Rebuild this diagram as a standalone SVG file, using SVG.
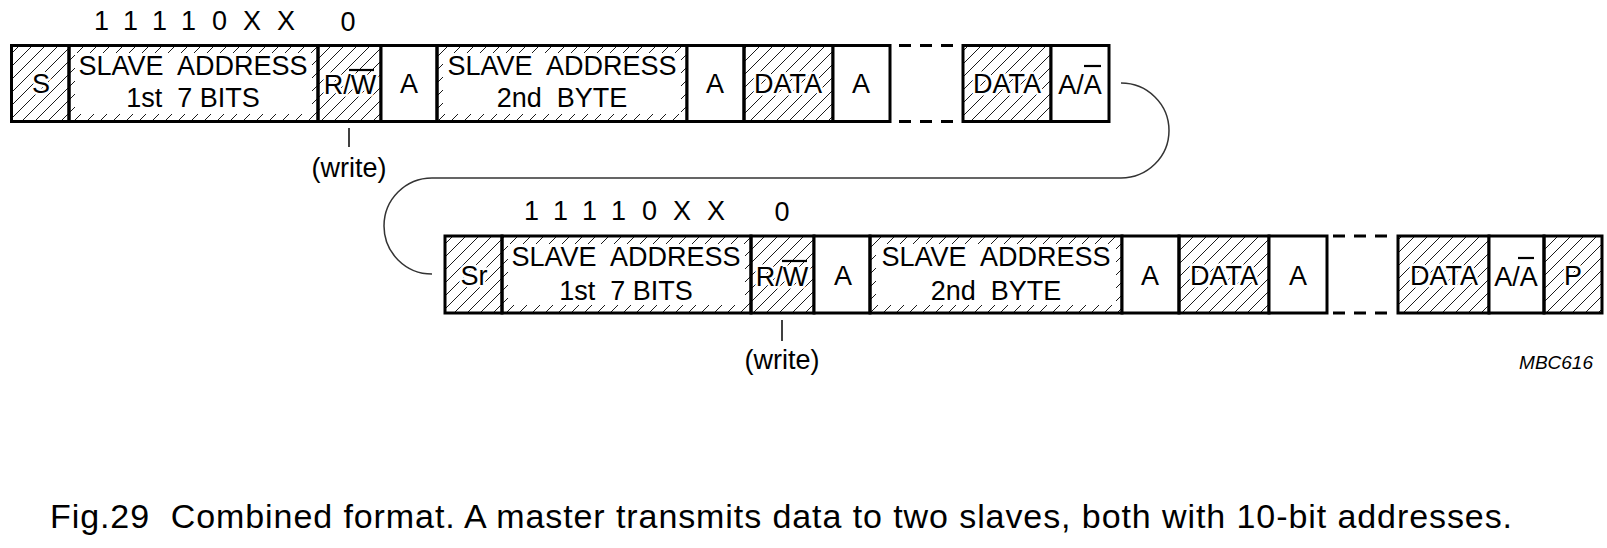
<svg xmlns="http://www.w3.org/2000/svg" width="1607" height="548" viewBox="0 0 1607 548">
<defs>
<pattern id="h" width="13" height="13" patternUnits="userSpaceOnUse">
<line x1="-1" y1="14" x2="14" y2="-1" stroke="#000" stroke-width="0.9"/>
</pattern>
</defs>
<style>
.b{stroke:#000;stroke-width:3;fill:#fff}
.hb{stroke:#000;stroke-width:3;fill:url(#h)}
.w{fill:#fff;stroke:none}
.t{font-family:"Liberation Sans",Arial,sans-serif;font-size:27px;text-anchor:middle;fill:#000;white-space:pre;stroke:#fff;stroke-width:5px;paint-order:stroke;stroke-linejoin:round}
.n{font-family:"Liberation Sans",Arial,sans-serif;font-size:27px;fill:#000;letter-spacing:16px}
.o{stroke:#000;stroke-width:2.2}
.d{stroke:#000;stroke-width:3;stroke-dasharray:12 9;fill:none}
.c{stroke:#333;stroke-width:1.5;fill:none}
</style>
<rect width="1607" height="548" fill="#fff"/>
<g id="row1">
<g id="n-s"><rect class="hb" x="11.5" y="45.5" width="57.5" height="76"/><text class="t" x="41" y="93">S</text></g>
<g id="n-sa1"><rect class="hb" x="69" y="45.5" width="249" height="76"/><rect class="w" x="75" y="53" width="237" height="61"/><text class="t" x="193" y="75">SLAVE  ADDRESS</text><text class="t" x="193" y="107">1st  7 BITS</text></g>
<g id="n-rw"><rect class="hb" x="318" y="45.5" width="63" height="76"/><text class="t" x="350" y="94">R/W</text><line class="o" x1="349" y1="70" x2="374" y2="70"/></g>
<g id="n-a1"><rect class="b" x="381" y="45.5" width="56" height="76"/><text class="t" x="409" y="93">A</text></g>
<g id="n-sa2"><rect class="hb" x="437" y="45.5" width="250" height="76"/><rect class="w" x="443" y="53" width="238" height="61"/><text class="t" x="562" y="75">SLAVE  ADDRESS</text><text class="t" x="562" y="107">2nd  BYTE</text></g>
<g id="n-a2"><rect class="b" x="687" y="45.5" width="57" height="76"/><text class="t" x="715" y="93">A</text></g>
<g id="n-d1"><rect class="hb" x="744" y="45.5" width="89" height="76"/><text class="t" x="788" y="93">DATA</text></g>
<g id="n-a3"><rect class="b" x="833" y="45.5" width="57" height="76"/><text class="t" x="861" y="93">A</text></g>
<g id="n-gap1"><line class="d" x1="899" y1="45.5" x2="953" y2="45.5"/><line class="d" x1="899" y1="121.5" x2="953" y2="121.5"/></g>
<g id="n-d2"><rect class="hb" x="963" y="45.5" width="88" height="76"/><text class="t" x="1007" y="93">DATA</text></g>
<g id="n-aa1"><rect class="b" x="1051" y="45.5" width="58" height="76"/><text class="t" x="1080" y="94">A/A</text><line class="o" x1="1084" y1="66" x2="1101" y2="66"/></g>
</g>
<g id="row2">
<g id="m-sr"><rect class="hb" x="445" y="236" width="57" height="77"/><text class="t" x="474" y="285">Sr</text></g>
<g id="m-sa1"><rect class="hb" x="502" y="236" width="249" height="77"/><rect class="w" x="508" y="244" width="237" height="61"/><text class="t" x="626" y="266">SLAVE  ADDRESS</text><text class="t" x="626" y="300">1st  7 BITS</text></g>
<g id="m-rw"><rect class="hb" x="751" y="236" width="63" height="77"/><text class="t" x="782" y="286">R/W</text><line class="o" x1="782" y1="261" x2="807" y2="261"/></g>
<g id="m-a1"><rect class="b" x="814" y="236" width="56" height="77"/><text class="t" x="843" y="285">A</text></g>
<g id="m-sa2"><rect class="hb" x="870" y="236" width="252" height="77"/><rect class="w" x="876" y="244" width="240" height="61"/><text class="t" x="996" y="266">SLAVE  ADDRESS</text><text class="t" x="996" y="300">2nd  BYTE</text></g>
<g id="m-a2"><rect class="b" x="1122" y="236" width="57" height="77"/><text class="t" x="1150" y="285">A</text></g>
<g id="m-d1"><rect class="hb" x="1179" y="236" width="90" height="77"/><text class="t" x="1224" y="285">DATA</text></g>
<g id="m-a3"><rect class="b" x="1269" y="236" width="58" height="77"/><text class="t" x="1298" y="285">A</text></g>
<g id="m-gap"><line class="d" x1="1333" y1="236" x2="1388" y2="236"/><line class="d" x1="1333" y1="313" x2="1388" y2="313"/></g>
<g id="m-d2"><rect class="hb" x="1398" y="236" width="91" height="77"/><text class="t" x="1444" y="285">DATA</text></g>
<g id="m-aa"><rect class="b" x="1489" y="236" width="55" height="77"/><text class="t" x="1516" y="286">A/A</text><line class="o" x1="1518" y1="258" x2="1534" y2="258"/></g>
<g id="m-p"><rect class="hb" x="1544" y="236" width="58" height="77"/><text class="t" x="1573" y="285">P</text></g>
</g>
<g id="connectors">
<path class="c" d="M1121 83 A48 47.5 0 0 1 1121 178 L432 178 A48 48 0 0 0 432 274"/>
<line x1="349" y1="128" x2="349" y2="147" stroke="#000" stroke-width="1.5"/>
<line x1="782" y1="320" x2="782" y2="341" stroke="#000" stroke-width="1.5"/>
</g>
<g id="labels">
<text class="n" x="94" y="30">11110XX</text>
<text class="t" x="348" y="31">0</text>
<text class="t" x="349" y="177">(write)</text>
<text class="n" x="524" y="220">11110XX</text>
<text class="t" x="782" y="221">0</text>
<text class="t" x="782" y="369">(write)</text>
<text x="1593" y="369" font-family="Liberation Sans,Arial,sans-serif" font-size="19" font-style="italic" text-anchor="end">MBC616</text>
<text x="50" y="528" font-family="Liberation Sans,Arial,sans-serif" font-size="34" textLength="1462" style="white-space:pre">Fig.29  Combined format. A master transmits data to two slaves, both with 10-bit addresses.</text>
</g>
</svg>
